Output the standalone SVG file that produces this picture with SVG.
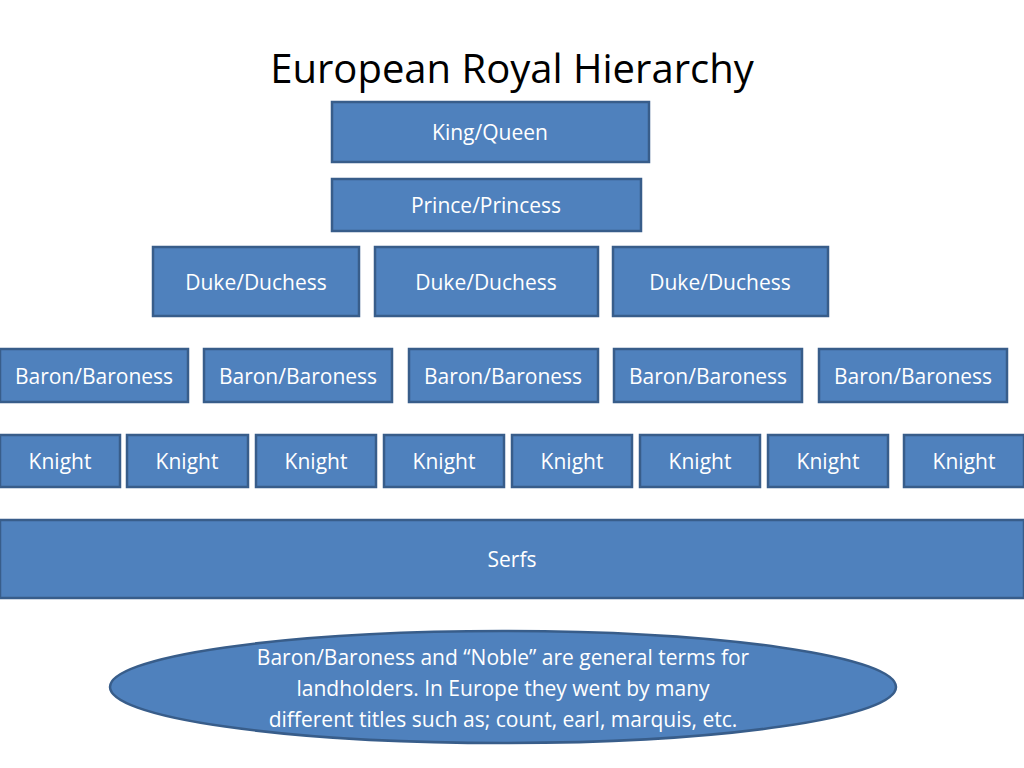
<svg xmlns="http://www.w3.org/2000/svg" width="1024" height="768" viewBox="0 0 1024 768">
<style>
.b{fill:#4f81bd;stroke:#385d8a;stroke-width:2.5}
text{font-family:"Open Sans","Liberation Sans",sans-serif;fill:#fff;font-size:21px;text-anchor:middle}
.t{fill:#000;font-size:40px}
</style>
<rect width="1024" height="768" fill="#fff"/>
<text class="t" x="512" y="83">European Royal Hierarchy</text>
<g id="king"><rect class="b" x="332" y="102" width="317" height="60"/><text x="490" y="140">King/Queen</text></g>
<g id="prince"><rect class="b" x="332" y="179" width="309" height="52"/><text x="486" y="213">Prince/Princess</text></g>
<g id="duke1"><rect class="b" x="153" y="247" width="206" height="69"/><text x="256" y="290">Duke/Duchess</text></g>
<g id="duke2"><rect class="b" x="375" y="247" width="223" height="69"/><text x="486" y="290">Duke/Duchess</text></g>
<g id="duke3"><rect class="b" x="613" y="247" width="215" height="69"/><text x="720" y="290">Duke/Duchess</text></g>
<g id="baron1"><rect class="b" x="0" y="349" width="188" height="53"/><text x="94" y="384">Baron/Baroness</text></g>
<g id="baron2"><rect class="b" x="204" y="349" width="188" height="53"/><text x="298" y="384">Baron/Baroness</text></g>
<g id="baron3"><rect class="b" x="409" y="349" width="189" height="53"/><text x="503" y="384">Baron/Baroness</text></g>
<g id="baron4"><rect class="b" x="614" y="349" width="188" height="53"/><text x="708" y="384">Baron/Baroness</text></g>
<g id="baron5"><rect class="b" x="819" y="349" width="188" height="53"/><text x="913" y="384">Baron/Baroness</text></g>
<g id="knight1"><rect class="b" x="0" y="435" width="120" height="52"/><text x="60" y="469">Knight</text></g>
<g id="knight2"><rect class="b" x="127" y="435" width="121" height="52"/><text x="187" y="469">Knight</text></g>
<g id="knight3"><rect class="b" x="256" y="435" width="120" height="52"/><text x="316" y="469">Knight</text></g>
<g id="knight4"><rect class="b" x="384" y="435" width="120" height="52"/><text x="444" y="469">Knight</text></g>
<g id="knight5"><rect class="b" x="512" y="435" width="120" height="52"/><text x="572" y="469">Knight</text></g>
<g id="knight6"><rect class="b" x="640" y="435" width="120" height="52"/><text x="700" y="469">Knight</text></g>
<g id="knight7"><rect class="b" x="768" y="435" width="120" height="52"/><text x="828" y="469">Knight</text></g>
<g id="knight8"><rect class="b" x="904" y="435" width="120" height="52"/><text x="964" y="469">Knight</text></g>
<g id="serfs"><rect class="b" x="0" y="520" width="1024" height="78"/><text x="512" y="567">Serfs</text></g>
<g id="note"><ellipse class="b" cx="503" cy="687" rx="393" ry="56"/>
<text x="503" y="665">Baron/Baroness and “Noble” are general terms for</text>
<text x="503" y="696">landholders.  In Europe they went by many</text>
<text x="503" y="727">different titles such as; count, earl, marquis, etc.</text></g>
<g id="connectors"/>
</svg>
